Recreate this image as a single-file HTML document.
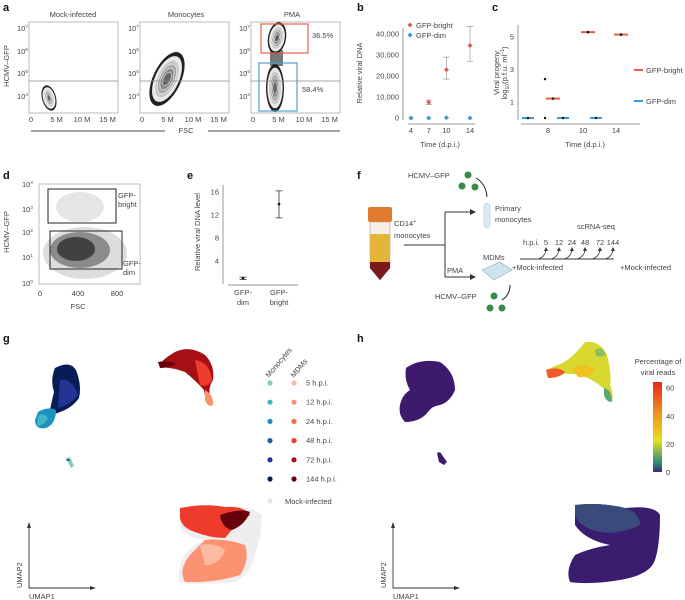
<!DOCTYPE html>
<html><head><meta charset="utf-8"><style>
body{margin:0;background:#fff}
svg{display:block;font-family:"Liberation Sans",sans-serif}
.t{font-size:7.5px;fill:#444}
.lbl{font-size:11px;font-weight:bold;fill:#111}
</style></head><body>
<svg id="fig" width="685" height="600" viewBox="0 0 685 600">
<defs></defs>
<g>
<text class="lbl" x="3" y="11">a</text>
<text class="t" x="73" y="17" text-anchor="middle" font-size="8">Mock-infected</text>
<text class="t" x="186" y="17" text-anchor="middle" font-size="8">Monocytes</text>
<text class="t" x="292" y="17" text-anchor="middle" font-size="8">PMA</text>
<text class="t" x="9" y="66" transform="rotate(-90 9 66)" text-anchor="middle" font-size="8">HCMV–GFP</text>
<text class="t" x="186" y="133" text-anchor="middle" font-size="8">FSC</text>
<line x1="31" y1="131" x2="165" y2="131" stroke="#444"/>
<line x1="208" y1="131" x2="340" y2="131" stroke="#444"/>
<g id="flowplots"></g>
<rect x="261" y="24" width="47" height="29" fill="none" stroke="#e8604c" stroke-width="1.2"/>
<rect x="259" y="63" width="38" height="48" fill="none" stroke="#4fa0d0" stroke-width="1.2"/>
<text class="t" x="312" y="38" font-size="8">36.5%</text>
<text class="t" x="302" y="92" font-size="8">58.4%</text>
</g>
<g id="panelB">
<text class="lbl" x="357" y="11">b</text>
</g>
<g id="panelC">
<text class="lbl" x="492" y="11">c</text>
</g>
<g id="panelD">
<text class="lbl" x="3" y="179">d</text>
</g>
<g id="panelE">
<text class="lbl" x="187" y="179">e</text>
</g>
<g>
<text class="lbl" x="357" y="179">f</text>
<g>
<path d="M370,222 L390,222 L390,268 L380,280 L370,268 Z" fill="#f7efe6" stroke="#aaa" stroke-width="0.6"/>
<rect x="370" y="234" width="20" height="28" fill="#e3b53a"/>
<path d="M370,262 L390,262 L390,268 L380,280 L370,268 Z" fill="#7a1a1a"/>
<rect x="368" y="207" width="24" height="15" rx="2" fill="#e07a2c"/>
</g>
<text class="t" x="394" y="226" font-size="8">CD14<tspan font-size="5" dy="-3">+</tspan><tspan x="394" dy="15">monocytes</tspan></text>
<path d="M404,245 H445 M445,212 V277 M445,212 H474 M445,277 H474" fill="none" stroke="#333" stroke-width="1"/>
<path d="M470,209 L476,212 L470,215 Z M470,274 L476,277 L470,280 Z" fill="#333"/>
<text class="t" x="447" y="273" font-size="8">PMA</text>
<rect x="484" y="203" width="6" height="25" rx="3" fill="#dceaf5" stroke="#9bc" stroke-width="0.5"/>
<text class="t" x="495" y="211" font-size="8">Primary<tspan x="495" dy="11">monocytes</tspan></text>
<text class="t" x="408" y="178" font-size="8">HCMV–GFP</text>
<g fill="#3a8a4a"><circle cx="468" cy="175" r="3.5"/><circle cx="462" cy="186" r="3.5"/><circle cx="475" cy="187" r="3.5"/></g>
<path d="M476,178 Q486,184 487,197" fill="none" stroke="#222"/>
<text class="t" x="483" y="260" font-size="8">MDMs</text>
<path d="M482,270 L500,262 L512,270 L494,280 Z" fill="#cfe3ef" stroke="#8ab" stroke-width="0.6"/>
<text class="t" x="435" y="299" font-size="8">HCMV–GFP</text>
<g fill="#3a8a4a"><circle cx="494" cy="296" r="3.5"/><circle cx="490" cy="308" r="3.5"/><circle cx="502" cy="308" r="3.5"/></g>
<path d="M502,300 Q510,295 510,285" fill="none" stroke="#222"/>
<text class="t" x="577" y="229" font-size="8">scRNA-seq</text>
<text class="t" x="523" y="245" font-size="6.5">h.p.i.</text>
<g id="timeline"><line x1="520" y1="259" x2="614" y2="259" stroke="#333"/></g>
<text class="t" x="512" y="270" font-size="8">+Mock-infected</text>
<text class="t" x="620" y="270" font-size="8">+Mock-infected</text>
</g>
<g id="panelG">
<text class="lbl" x="3" y="342">g</text>
</g>
<g id="panelH">
<text class="lbl" x="357" y="342">h</text>
</g>
</svg>
<script>
// ---- chart data ----
const bDays=[4,7,10,14];
const bBright=[0,7500,23000,34500];
const bBrightLo=[0,6500,18500,27000];
const bBrightHi=[0,8500,29000,43500];
const bDim=[0,0,200,0];
const bTicks=[0,10000,20000,30000,40000];
const bTickLabels=["0","10,000","20,000","30,000","40,000"];
const cDays=["8","10","14"];
const cBright=[1.2,5.3,5.15];
const cDim=[0,0,0];
const cTicks=[1,3,5];
const eGroups=["GFP-\ndim","GFP-\nbright"];
const eMean=[1.0,13.9];
const eLo=[0.8,11.5];
const eHi=[1.2,16.2];
const eTicks=[4,8,12,16];
const hpi=["5","12","24","48","72","144"];
const legendLabels=["5 h.p.i.","12 h.p.i.","24 h.p.i.","48 h.p.i.","72 h.p.i.","144 h.p.i."];
const monoColors=["#7fcdbb","#41b6c4","#1d91c0","#225ea8","#253494","#081d58"];
const mdmColors=["#fcbba1","#fc9272","#fb6a4a","#ef3b2c","#a50f15","#67000d"];
const cbTicks=[0,20,40,60];

const NS="http://www.w3.org/2000/svg";
function mk(parent,tag,attrs,text){const e=document.createElementNS(NS,tag);for(const k in attrs)e.setAttribute(k,attrs[k]);if(text!==undefined)e.textContent=text;parent.appendChild(e);return e;}
const svg=document.getElementById('fig');

// ---- panel a flow plots ----
const fp=document.getElementById('flowplots');
const plots=[{x:29,n:'mock'},{x:140,n:'monocytes'},{x:251,n:'pma'}];
const aXt=["0","5 M","10 M","15 M"];
const aYt=[["10","7",29],["10","6",52],["10","5",74],["10","4",97]];
plots.forEach((p,i)=>{
  const r=mk(fp,'rect',{x:p.x,y:22,width:89,height:91,fill:'none',stroke:'#bbb','stroke-width':1});
  
  
  aXt.forEach((t,j)=>{const tx=mk(fp,'text',{class:'t',x:p.x+2+j*25.5,y:122,'text-anchor':'middle'},t);
    });
  aYt.forEach(t=>{const tx=mk(fp,'text',{class:'t',x:p.x-12,y:t[2]+2});tx.textContent=t[0];
    mk(tx,'tspan',{dy:-3,'font-size':4.5},t[1]);
    });
});
function contour(cx,cy,rx,ry,rot,name){
  const g=mk(fp,'g',{transform:`rotate(${rot} ${cx} ${cy})`});
  
  const cols=['#222','#e8e8e8','#c8c8c8','#aaa','#888','#666'];
  for(let k=0;k<6;k++){const f=1-k*0.15;mk(g,'ellipse',{cx,cy,rx:rx*f,ry:ry*f,fill:cols[k],stroke:k>1?'#fff':'none','stroke-width':0.5});}
}
contour(49,98,7,13,-15,'contour-mock');
contour(167,79,14,29,25,'contour-monocytes');
mk(fp,'rect',{x:270,y:50,width:13,height:16,fill:'#777'});
contour(277,38,9,16,10,'contour-pma-top');
contour(275,88,9,24,0,'contour-pma-bottom');
plots.forEach(p=>mk(fp,'line',{x1:p.x,y1:81,x2:p.x+89,y2:81,stroke:'#888','stroke-width':0.8}));

// ---- panel b ----
(function(){
  const g=document.getElementById('panelB');
  const y=v=>118-v/40000*84;
  const x=d=>411+(d-4)*5.9;
  mk(g,'line',{x1:403,y1:28,x2:403,y2:120,stroke:'#999'});
  mk(g,'line',{x1:408,y1:124,x2:475,y2:124,stroke:'#999'});
  bTicks.forEach((t,i)=>{const tx=mk(g,'text',{class:'t',x:399,y:y(t)+2.5,'text-anchor':'end'},bTickLabels[i]);
    });
  bDays.forEach(d=>{const tx=mk(g,'text',{class:'t',x:x(d),y:133,'text-anchor':'middle'},d);
    });
  let tl=mk(g,'text',{class:'t',x:440,y:147,'text-anchor':'middle','font-size':8},'Time (d.p.i.)');
  
  tl=mk(g,'text',{class:'t',x:362,y:73,'text-anchor':'middle','font-size':8,transform:'rotate(-90 362 73)'},'Relative viral DNA');
  
  bDays.forEach((d,i)=>{
    if(bBrightHi[i]>bBrightLo[i]){const e=mk(g,'path',{d:`M${x(d)-3},${y(bBrightHi[i])}H${x(d)+3}M${x(d)},${y(bBrightHi[i])}V${y(bBrightLo[i])}M${x(d)-3},${y(bBrightLo[i])}H${x(d)+3}`,stroke:'#999',fill:'none','stroke-width':0.7});
      }
    const m=mk(g,'path',{d:`M${x(d)},${y(bBright[i])-2.5}l2.5,2.5l-2.5,2.5l-2.5,-2.5z`,fill:'#e05a4a'});
    
    const n=mk(g,'path',{d:`M${x(d)},${y(bDim[i])-2.5}l2.5,2.5l-2.5,2.5l-2.5,-2.5z`,fill:'#3c9bd0'});
    
  });
  [['GFP-bright','#e05a4a',25],['GFP-dim','#3c9bd0',35]].forEach(l=>{
    const le=mk(g,'g',{});
    mk(le,'path',{d:`M410,${l[2]-2.5}l2.5,2.5l-2.5,2.5l-2.5,-2.5z`,fill:l[1]});
    mk(le,'text',{class:'t',x:416,y:l[2]+3,'font-size':8},l[0]);
  });
})();

// ---- panel c ----
(function(){
  const g=document.getElementById('panelC');
  const y=v=>118-v*16.2;
  const gx=[548,583,616];
  mk(g,'line',{x1:518,y1:25,x2:518,y2:120,stroke:'#999'});
  mk(g,'line',{x1:521,y1:124,x2:640,y2:124,stroke:'#999'});
  cTicks.forEach(t=>{const tx=mk(g,'text',{class:'t',x:514,y:y(t)+2.5,'text-anchor':'end'},t);
    });
  cDays.forEach((d,i)=>{const tx=mk(g,'text',{class:'t',x:gx[i],y:133,'text-anchor':'middle'},d);
    });
  let tl=mk(g,'text',{class:'t',x:585,y:147,'text-anchor':'middle','font-size':8},'Time (d.p.i.)');
  
  tl=mk(g,'text',{class:'t','font-size':7.5,x:499,y:73,'text-anchor':'middle',transform:'rotate(-90 499 73)'},'Viral progeny');
  
  tl=mk(g,'text',{class:'t','font-size':7.5,x:507,y:73,'text-anchor':'middle',transform:'rotate(-90 507 73)'},'log');
  mk(tl,'tspan',{'font-size':5,dy:2},'10');
  mk(tl,'tspan',{dy:-2},'(p.f.u. ml');
  mk(tl,'tspan',{'font-size':5,dy:-3},'−1');
  mk(tl,'tspan',{dy:3},')');
  
  cDays.forEach((d,i)=>{
    const b=mk(g,'line',{x1:gx[i]-26,x2:gx[i]-14,y1:y(cDim[i]),y2:y(cDim[i]),stroke:'#3c9bd0','stroke-width':2});
    
    mk(g,'circle',{cx:gx[i]-20,cy:y(cDim[i]),r:1.2,fill:'#111'});
    const r=mk(g,'line',{x1:gx[i]-2,x2:gx[i]+12,y1:y(cBright[i]),y2:y(cBright[i]),stroke:'#e8604c','stroke-width':2});
    
    mk(g,'circle',{cx:gx[i]+5,cy:y(cBright[i]),r:1.3,fill:'#111'});
  });
  mk(g,'circle',{cx:545,cy:y(2.4),r:1.2,fill:'#111'});mk(g,'circle',{cx:545,cy:y(0),r:1.2,fill:'#111'});
  [['GFP-bright','#e8604c',70],['GFP-dim','#3c9bd0',101]].forEach(l=>{
    const le=mk(g,'g',{});
    mk(le,'line',{x1:634,x2:643,y1:l[2],y2:l[2],stroke:l[1],'stroke-width':2});
    mk(le,'text',{class:'t',x:646,y:l[2]+3,'font-size':7.5},l[0]);
  });
})();

// ---- panel d ----
(function(){
  const g=document.getElementById('panelD');
  mk(g,'rect',{x:39,y:184,width:101,height:100,fill:'none',stroke:'#bbb'});
  const yt=[["4",185],["3",210],["2",233],["1",258],["0",284]];
  yt.forEach(t=>{const tx=mk(g,'text',{class:'t',x:22,y:t[1]+2},'10');mk(tx,'tspan',{dy:-3,'font-size':4.5},t[0]);
    });
  [["0",40],["400",78],["800",117]].forEach(t=>{const tx=mk(g,'text',{class:'t',x:t[1],y:296,'text-anchor':'middle'},t[0]);
    });
  let tl=mk(g,'text',{class:'t',x:78,y:309,'text-anchor':'middle','font-size':8},'FSC');
  
  tl=mk(g,'text',{class:'t',x:9,y:232,'text-anchor':'middle','font-size':8,transform:'rotate(-90 9 232)'},'HCMV–GFP');
  
  const sc=mk(g,'g',{});
  mk(sc,'ellipse',{cx:85,cy:253,rx:42,ry:26,fill:'#bbb',opacity:0.5});
  mk(sc,'ellipse',{cx:80,cy:250,rx:30,ry:18,fill:'#555',opacity:0.6});
  mk(sc,'ellipse',{cx:76,cy:249,rx:19,ry:12,fill:'#222',opacity:0.7});
  mk(sc,'ellipse',{cx:80,cy:207,rx:24,ry:15,fill:'#ccc',opacity:0.5});
  const gb=mk(g,'rect',{x:48,y:189,width:68,height:34,fill:'none',stroke:'#222'});
  
  const gd=mk(g,'rect',{x:50,y:231,width:72,height:38,fill:'none',stroke:'#222'});
  
  mk(g,'text',{class:'t',x:118,y:198},'GFP-');mk(g,'text',{class:'t',x:118,y:207},'bright');
  mk(g,'text',{class:'t',x:123,y:266},'GFP-');mk(g,'text',{class:'t',x:123,y:275},'dim');
})();

// ---- panel e ----
(function(){
  const g=document.getElementById('panelE');
  const y=v=>284-v*5.75;
  const gx=[243,279];
  mk(g,'line',{x1:223,y1:185,x2:223,y2:284,stroke:'#999'});
  mk(g,'line',{x1:228,y1:285,x2:298,y2:285,stroke:'#999'});
  eTicks.forEach(t=>{const tx=mk(g,'text',{class:'t',x:219,y:y(t)+2.5,'text-anchor':'end'},t);
    });
  eGroups.forEach((n,i)=>{const p=n.split('\n');const tx=mk(g,'text',{class:'t','font-size':7.5,x:gx[i],y:295,'text-anchor':'middle'},p[0]);
    mk(tx,'tspan',{x:gx[i],dy:10},p[1]);
    const e=mk(g,'path',{d:`M${gx[i]-3.5},${y(eHi[i])}H${gx[i]+3.5}M${gx[i]},${y(eHi[i])}V${y(eLo[i])}M${gx[i]-3.5},${y(eLo[i])}H${gx[i]+3.5}`,stroke:'#333',fill:'none','stroke-width':0.8});
    
    const c=mk(g,'circle',{cx:gx[i],cy:y(eMean[i]),r:1.3,fill:'#111'});
    
  });
  const tl=mk(g,'text',{class:'t',x:200,y:232,'text-anchor':'middle','font-size':8,transform:'rotate(-90 200 232)'},'Relative viral DNA level');
  
})();

// ---- timeline ----
(function(){
  const g=document.getElementById('timeline');
  const xs=[546,559,572,585,600,613];
  hpi.forEach((h,i)=>{
    const a=mk(g,'path',{d:`M${xs[i]-8},259 Q${xs[i]-1},257 ${xs[i]},250`,fill:'none',stroke:'#333','stroke-width':0.8});
    
    mk(g,'path',{d:`M${xs[i]-2},251 L${xs[i]},247 L${xs[i]+2},251Z`,fill:'#333'});
    const t=mk(g,'text',{class:'t',x:xs[i],y:245,'text-anchor':'middle','font-size':7},h);
    
  });
})();

// ---- UMAP blobs ----
function blob(g,d,fill,name){const p=mk(g,'path',{d,fill});return p;}
function umapAxes(g,x0,pre){
  mk(g,'path',{d:`M${x0},525 V588 H${x0+64}`,fill:'none',stroke:'#333','stroke-width':0.9});
  mk(g,'path',{d:`M${x0-2},528 L${x0},522 L${x0+2},528Z M${x0+61},586 L${x0+67},588 L${x0+61},590Z`,fill:'#333'});
  let t=mk(g,'text',{class:'t',x:x0,y:599,'font-size':8},'UMAP1');
  t=mk(g,'text',{class:'t',x:x0-7,y:588,'font-size':8,transform:`rotate(-90 ${x0-7} 588)`},'UMAP2');
}
(function(){
  const g=document.getElementById('panelG');
  umapAxes(g,29,'g');
  blob(g,'M55,368 Q70,360 76,370 Q82,385 79,398 Q72,408 60,412 Q52,416 50,410 Q52,400 54,392 Q50,380 55,368Z',monoColors[5],'cluster-mono-144');
  blob(g,'M60,380 Q72,378 78,395 Q70,405 58,408Z',monoColors[4],'cluster-mono-72');
  blob(g,'M38,412 Q48,406 56,410 Q56,424 46,428 Q35,430 35,420Z',monoColors[2],'cluster-mono-24');
  blob(g,'M38,416 Q44,412 48,418 Q44,426 37,426Z',monoColors[1],'cluster-mono-12');
  blob(g,'M66,458 L70,457 L74,466 L71,468Z',monoColors[0],'cluster-mono-5');
  blob(g,'M66,459 L69,459 L70,461 L67,461Z',monoColors[3],'cluster-mono-48');
  blob(g,'M175,352 Q190,345 205,355 Q215,365 213,380 Q208,388 210,395 Q215,402 211,405 Q205,400 204,390 Q195,380 185,372 Q175,368 160,367 Q158,362 175,352Z',mdmColors[4],'cluster-mdm-72');
  blob(g,'M195,360 Q210,362 212,380 Q208,388 200,385Z',mdmColors[3],'cluster-mdm-48');
  blob(g,'M158,362 Q168,360 176,364 Q168,368 160,368Z',mdmColors[5],'cluster-mdm-144');
  blob(g,'M205,390 Q214,395 213,405 Q208,408 205,400Z',mdmColors[1],'cluster-mdm-12');
  blob(g,'M180,508 Q205,503 225,507 Q250,505 262,515 Q262,535 255,555 Q250,575 235,582 Q205,585 180,583 Q176,570 185,555 Q192,545 205,540 Q185,538 180,525Z','#eeeeee','cluster-mock');
  blob(g,'M180,508 Q205,503 225,507 Q245,506 250,515 Q235,525 225,538 Q210,538 195,532 Q182,528 180,518Z',mdmColors[3],'cluster-mdm-48b');
  blob(g,'M220,515 Q240,508 250,512 Q245,525 232,530 Q222,528 220,515Z',mdmColors[5],'cluster-mdm-144b');
  blob(g,'M205,540 Q225,538 245,545 Q250,560 240,575 Q215,583 185,582 Q178,570 190,555Z',mdmColors[1],'cluster-mdm-12b');
  blob(g,'M200,545 Q215,542 225,550 Q220,565 205,565Z',mdmColors[0],'cluster-mdm-5b');
  // legend
  let t=mk(g,'text',{class:'t','font-size':7.5,x:269,y:378,transform:'rotate(-50 269 378)'},'Monocytes');
  t=mk(g,'text',{class:'t','font-size':7.5,x:294,y:378,transform:'rotate(-50 294 378)'},'MDMs');
  legendLabels.forEach((l,i)=>{
    const le=mk(g,'g',{});
    const yy=383+i*19.2;
    mk(le,'circle',{cx:270,cy:yy,r:2.6,fill:monoColors[i]});
    mk(le,'circle',{cx:294,cy:yy,r:2.6,fill:mdmColors[i]});
    mk(le,'text',{class:'t','font-size':7.5,x:306,y:yy+2.5},l);
  });
  const le=mk(g,'g',{});
  mk(le,'circle',{cx:270,cy:501,r:2.6,fill:'#e6e6e6'});
  mk(le,'text',{class:'t','font-size':8,x:285,y:504},'Mock-infected');
})();
(function(){
  const g=document.getElementById('panelH');
  umapAxes(g,393,'h');
  blob(g,'M406,368 Q420,358 440,362 Q455,372 455,390 Q450,402 440,405 Q432,406 428,412 Q420,422 405,422 Q398,415 400,405 Q402,395 410,390 Q404,380 406,368Z','#3d1a6b','cluster-h-mono');
  blob(g,'M437,453 L440,452 L447,462 L444,465 L439,462Z','#3d1a6b','cluster-h-small');
  blob(g,'M585,342 Q600,340 607,355 Q612,375 610,385 Q614,395 612,400 Q606,398 605,390 Q595,380 580,375 Q565,372 548,376 Q545,370 555,366 Q570,362 585,342Z','#d8d830','cluster-h-mdm');
  blob(g,'M546,370 Q558,366 565,372 Q560,378 548,378Z','#f05a28','cluster-h-mdm-high');
  blob(g,'M572,368 Q585,362 595,370 Q590,378 578,377Z','#f0c020','cluster-h-mdm-mid');
  blob(g,'M595,350 Q602,345 606,355 Q600,358 596,356Z','#8cbf5a','cluster-h-mdm-low');
  blob(g,'M604,388 Q612,390 612,402 Q606,402 604,395Z','#5aa870','cluster-h-mdm-tail');
  blob(g,'M575,505 Q600,502 625,508 Q655,505 660,515 Q660,545 655,560 Q650,575 620,580 Q590,585 570,582 Q565,570 575,555 Q590,548 610,545 Q585,540 575,525Z','#3a1d6e','cluster-h-mdm-bottom');
  blob(g,'M575,505 Q600,502 625,508 Q640,512 640,525 Q620,535 600,532 Q580,528 575,515Z','#3a4a7a','cluster-h-mdm-bottom-top');
  const grad=mk(svg.querySelector('defs'),'linearGradient',{id:'cb',x1:0,y1:1,x2:0,y2:0});
  [['0','#3b2a78'],['0.1','#2a8a7a'],['0.35','#e8e020'],['0.6','#f0a020'],['1','#e8281a']].forEach(s=>mk(grad,'stop',{offset:s[0],'stop-color':s[1]}));
  const cb=mk(g,'rect',{x:653,y:382,width:9,height:90,fill:'url(#cb)'});
  
  cbTicks.forEach(t=>{const tx=mk(g,'text',{class:'t','font-size':7.5,x:666,y:472-t/64*90+3},t);
    });
  let t=mk(g,'text',{class:'t','font-size':8,x:658,y:364,'text-anchor':'middle'},'Percentage of');
  
  mk(g,'text',{class:'t','font-size':8,x:658,y:375,'text-anchor':'middle'},'viral reads');
})();
</script>
</body></html>
